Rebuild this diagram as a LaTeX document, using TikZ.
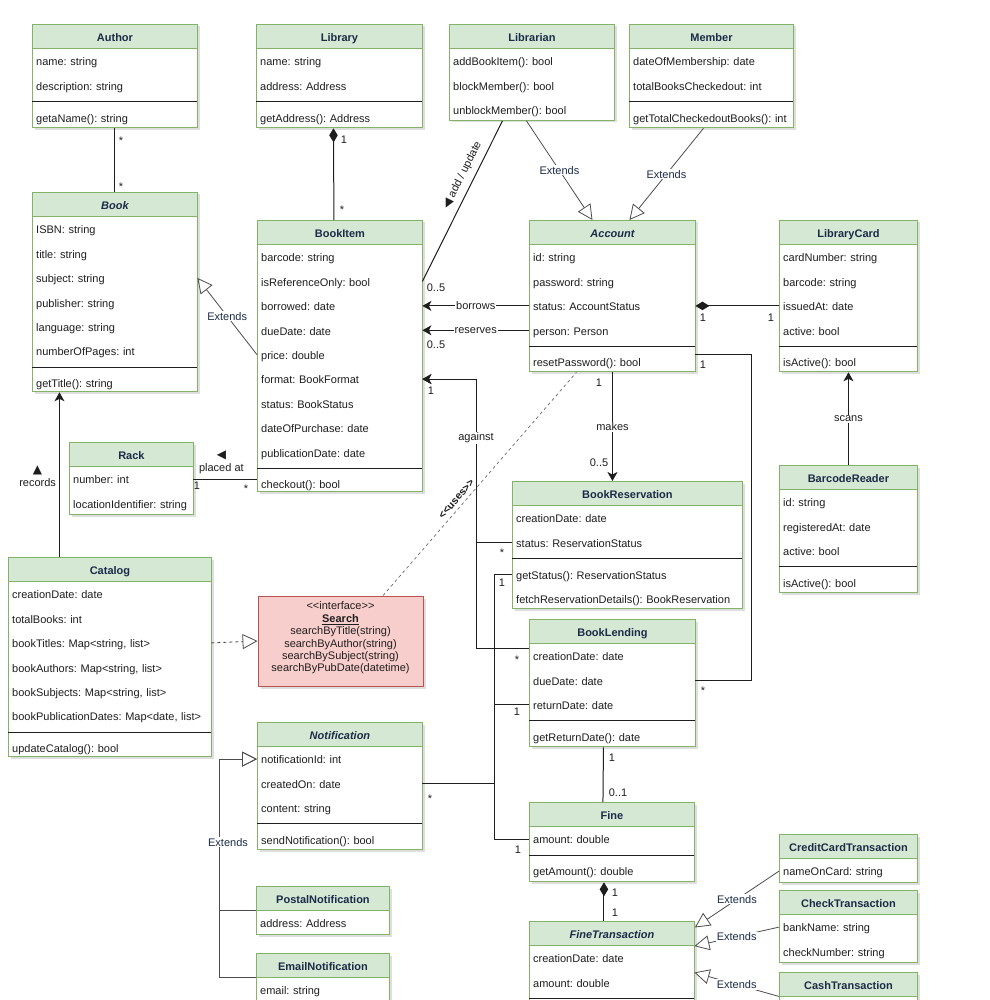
\documentclass[tikz,border=0pt]{standalone}
\usepackage{fontspec}
\setmainfont{Liberation Sans}[Ligatures=TeXOff]
\newfontfamily\symfont{DejaVu Sans}
\usetikzlibrary{arrows.meta}

\definecolor{umlfill}{HTML}{D5E8D4}
\definecolor{umldraw}{HTML}{82B366}
\definecolor{ifill}{HTML}{F8CECC}
\definecolor{idraw}{HTML}{B85450}
\definecolor{navy}{HTML}{1B2B48}
\definecolor{ink}{HTML}{1E1E1E}

\newcommand\umlfont{\fontsize{11}{13}\selectfont}

% class box: name, x, y (top left), width, title, attributes, methods
\newcommand\umlclass[7]{%
  \pgfmathsetlengthmacro\umltw{#4pt-8pt}%
  \def\umlna{0}\def\umlnm{0}%
  \foreach \fld [count=\i] in {#6}{\xdef\umlna{\i}}%
  \if\relax\detokenize{#7}\relax\else\foreach \fld [count=\i] in {#7}{\xdef\umlnm{\i}}\fi
  \pgfmathsetmacro\umlht{24+24*\umlna+(\umlnm>0)*(7.4+24*\umlnm)}%
  \fill[umlshadow] (#2+2.5,#3+2.5) rectangle ++(#4,\umlht);
  \node[umlbox, minimum width=#4pt, minimum height=\umlht pt, anchor=north west] (#1) at (#2,#3) {};
  \node[umlhead, minimum width=#4pt, anchor=north west] (#1-h) at (#2,#3) {#5};
  \coordinate (#1-end) at (#1-h.south west);
  \foreach \fld [count=\i] in {#6}{
    \node[umlrow, text width=\umltw, anchor=north west] (#1-\i) at (#1-end) {\mbox{\fld}};
    \coordinate (#1-end) at (#1-\i.south west);
  }
  \if\relax\detokenize{#7}\relax\else
    \draw[umlsep] ([yshift=-3.7pt]#1-end) -- ++(#4,0);
    \coordinate (#1-end) at ([yshift=-7.4pt]#1-end);
    \foreach \fld [count=\i] in {#7}{
      \node[umlrow, text width=\umltw, anchor=north west] (#1-m\i) at (#1-end) {\mbox{\fld}};
      \coordinate (#1-end) at (#1-m\i.south west);
    }
  \fi
}

\begin{document}
\frenchspacing
\begin{tikzpicture}[x=1pt, y=-1pt,
    umlhead/.style={draw=umldraw, fill=umlfill, line width=0.9pt, inner sep=0pt,
      minimum height=24pt, text height=10pt, text depth=0.5pt, font=\umlfont\bfseries, text=navy},
    umlrow/.style={inner xsep=4pt, inner ysep=0pt, minimum height=24pt, text height=10pt,
      text depth=0.5pt, align=left, font=\umlfont, text=ink},
    umlsep/.style={draw=ink, line width=0.9pt},
    umlbox/.style={draw=umldraw, fill=white, line width=0.9pt, inner sep=0pt},
    umlshadow/.style={fill=black!13},
    line/.style={draw=ink, line width=1pt},
    nav/.style={line, -{Stealth[length=9pt, width=10pt, inset=2.5pt]}},
    compo/.style={line, {Diamond[length=14pt, width=8.5pt]}-},
    ext/.style={draw=black!70, line width=0.8pt, -{Triangle[open, length=15pt, width=15pt]}},
    real/.style={ext, dash pattern=on 3pt off 3pt},
    uses/.style={draw=black!65, line width=0.6pt, dash pattern=on 3pt off 3pt},
    lbl/.style={fill=white, inner sep=1pt, font=\umlfont, text=ink},
    lbltxt/.style={inner sep=1pt, font=\umlfont, text=ink},
    extlbl/.style={lbl, text=navy},
    mult/.style={inner sep=0pt, font=\umlfont, text=ink}]

  \useasboundingbox[fill=white] (0,0) rectangle (989,1000);

  % classes
  \umlclass{author}{32}{24}{165}{Author}{name: string, description: string}{getaName(): string}
  \umlclass{library}{256}{24}{166}{Library}{name: string, address: Address}{getAddress(): Address}
  \umlclass{librarian}{449}{24}{165}{Librarian}{addBookItem(): bool, blockMember(): bool, unblockMember(): bool}{}
  \umlclass{member}{629}{24}{164}{Member}{dateOfMembership: date, totalBooksCheckedout: int}{getTotalCheckedoutBooks(): int}
  \umlclass{book}{32}{192}{165}{\itshape Book}{ISBN: string, title: string, subject: string, publisher: string, language: string, numberOfPages: int}{getTitle(): string}
  \umlclass{bi}{257}{220}{165}{BookItem}{barcode: string, isReferenceOnly: bool, borrowed: date, dueDate: date, price: double, format: BookFormat, status: BookStatus, dateOfPurchase: date, publicationDate: date}{checkout(): bool}
  \umlclass{acc}{529}{220}{166}{\itshape Account}{id: string, password: string, status: AccountStatus, person: Person}{resetPassword(): bool}
  \umlclass{card}{779}{220}{138}{LibraryCard}{cardNumber: string, barcode: string, issuedAt: date, active: bool}{isActive(): bool}
  \umlclass{rack}{69}{442}{124}{Rack}{number: int, locationIdentifier: string}{}
  \umlclass{reader}{779}{465}{138}{BarcodeReader}{id: string, registeredAt: date, active: bool}{isActive(): bool}
  \umlclass{br}{512}{481}{230}{BookReservation}{creationDate: date, status: ReservationStatus}{getStatus(): ReservationStatus, fetchReservationDetails(): BookReservation}
  \umlclass{cat}{8}{557}{203}{Catalog}{creationDate: date, totalBooks: int, {bookTitles: Map<string, list>}, {bookAuthors: Map<string, list>}, {bookSubjects: Map<string, list>}, {bookPublicationDates: Map<date, list>}}{updateCatalog(): bool}
  \umlclass{bl}{529}{619}{166}{BookLending}{creationDate: date, dueDate: date, returnDate: date}{getReturnDate(): date}
  \umlclass{nt}{257}{722}{165}{\itshape Notification}{notificationId: int, createdOn: date, content: string}{sendNotification(): bool}
  \umlclass{fine}{529}{802}{165}{Fine}{amount: double}{getAmount(): double}
  \umlclass{ft}{529}{921}{165}{\itshape FineTransaction}{creationDate: date, amount: double}{~}
  \umlclass{pn}{256}{886}{133}{PostalNotification}{address: Address}{}
  \umlclass{en}{256}{953}{133}{EmailNotification}{email: string}{}
  \umlclass{cc}{779}{834}{138}{CreditCardTransaction}{nameOnCard: string}{}
  \umlclass{ck}{779}{890}{138}{CheckTransaction}{bankName: string, checkNumber: string}{}
  \umlclass{cash}{779}{972}{138}{CashTransaction}{~}{}

  % interface
  \fill[umlshadow] (260.5,598.5) rectangle ++(165,90);
  \node[draw=idraw, fill=ifill, line width=0.9pt, minimum width=165pt, minimum height=90pt]
    (search) at (340.5,641) {};
  \node[align=center, inner sep=0pt, font=\fontsize{11}{12.4}\selectfont, text=ink] (search-txt) at (340.5,638)
    {<<interface>>\\\underline{\textbf{Search}}\\searchByTitle(string)\\
     searchByAuthor(string)\\searchBySubject(string)\\searchByPubDate(datetime)};

  % connectors
  \draw[line] (author) -- (book);
  \draw[compo] ([xshift=-6pt]library.south) -- ([xshift=-6pt]bi.north);
  \draw[line] (bi-2.east) -- node[lbltxt, sloped, above=5pt, pos=0.63] (addupd)
    {{\symfont\fontsize{12}{13}\selectfont ◀} add / update} ([xshift=-29.5pt]librarian.south);
  \draw[ext] ([xshift=-5.5pt]librarian.south) -- node[extlbl] (ext-lib) {Extends} ([xshift=-20pt]acc.north);
  \draw[ext] ([xshift=-8pt]member.south) -- node[extlbl] (ext-mem) {Extends} ([xshift=17pt]acc.north);
  \draw[nav] (acc-3.west) -- node[lbl] (borrows) {borrows} (bi-3.east);
  \draw[nav] (acc-4.west) -- node[lbl] (reserves) {reserves} (bi-4.east);
  \draw[compo] (acc-3.east) -- (card-3.west);
  \draw[nav] (acc.south) -- node[lbl] (makes) {makes} (acc.south |- br.north);
  \draw[line] ([yshift=8pt]acc-m1.east) -- ++(56,0) |- (bl-2.east);
  \draw[nav] ([yshift=8pt]bl-1.west) -- ++(-53,0) |- (bi-6.east);
  \draw[nav] (br-2.west) -- ++(-36,0) |- node[lbl, pos=0.32] (against) {against} (bi-6.east);
  \draw[nav] (reader) -- node[lbl] (scans) {scans} (card);
  \draw[line] (rack-1.east) -- node[lbltxt, above=4pt, pos=0.44, align=center] (placed)
    {{\symfont\fontsize{12}{13}\selectfont ◀}\\placed at} (rack-1.east -| bi.west);
  \draw[nav] ([xshift=-50.5pt]cat.north) -- node[lbltxt, left=2pt, pos=0.49, align=center] (records)
    {{\symfont\fontsize{12}{13}\selectfont ▲}\\records} ([xshift=-55.5pt]book.south);
  \draw[real] (cat-3.east) -- (search.west);
  \draw[uses] ([xshift=42.5pt]search.north) -- node[lbltxt, sloped, above=3pt, pos=0.41, font=\fontsize{10.5}{12}\selectfont\bfseries] (uses)
    {<<uses>>} ([xshift=-36pt]acc.south);
  \draw[ext] (bi-5.west) -- node[extlbl] (ext-bi) {Extends} (book-3.east);
  \draw[line] (nt-2.east) -- ++(72,0) |- (br-m1.west);
  \draw[line] (nt-2.east) -- ++(72,0) |- (bl-3.west);
  \draw[line] (nt-2.east) -- ++(72,0) |- (fine-1.west);
  \draw[line] ([xshift=-9pt]bl.south) -- ([xshift=-9pt]fine.north);
  \draw[compo] ([xshift=-8pt]fine.south) -- ([xshift=-8pt]ft.north);
  \draw[ext] (pn.west) -- ++(-37,0) |- (nt-1.west);
  \draw[ext] (en.west) -- ++(-37,0) |- node[extlbl, pos=0.31, xshift=9pt] (ext-nt) {Extends} (nt-1.west);
  \draw[ext] (cc-1.west) -- node[extlbl] (ext-cc) {Extends} ([yshift=6pt]ft-h.east);
  \draw[ext] (ck-1.west) -- node[extlbl] (ext-ck) {Extends} ([yshift=12pt]ft-1.east);
  \draw[ext] (cash.west) -- node[extlbl] (ext-cash) {Extends} ([yshift=10pt]ft-2.east);

  % multiplicities
  \node[mult] (m-auth) at (121,141) {*};
  \node[mult] (m-book) at (121,187) {*};
  \node[mult] (m-lib) at (344,140) {1};
  \node[mult] (m-bi) at (342,210) {*};
  \node[mult] (m-bor) at (436,288) {0..5};
  \node[mult] (m-res) at (436,345) {0..5};
  \node[mult] (m-ag) at (431,391) {1};
  \node[mult] (m-acc1) at (703,318) {1};
  \node[mult] (m-card) at (771,318) {1};
  \node[mult] (m-acc2) at (703,365) {1};
  \node[mult] (m-bl2) at (703,691) {*};
  \node[mult] (m-mk1) at (599,383) {1};
  \node[mult] (m-mk2) at (599,463) {0..5};
  \node[mult] (m-br1) at (502,553) {*};
  \node[mult] (m-br2) at (502,583) {1};
  \node[mult] (m-bl1) at (517,660) {*};
  \node[mult] (m-bl3) at (517,712) {1};
  \node[mult] (m-nt) at (430,799) {*};
  \node[mult] (m-fine) at (518,850) {1};
  \node[mult] (m-bf1) at (612,758) {1};
  \node[mult] (m-bf2) at (618,793) {0..1};
  \node[mult] (m-ft1) at (615,893) {1};
  \node[mult] (m-ft2) at (615,913) {1};
  \node[mult] (m-rack) at (197,486) {1};
  \node[mult] (m-rbi) at (246,489) {*};
\end{tikzpicture}
\end{document}
